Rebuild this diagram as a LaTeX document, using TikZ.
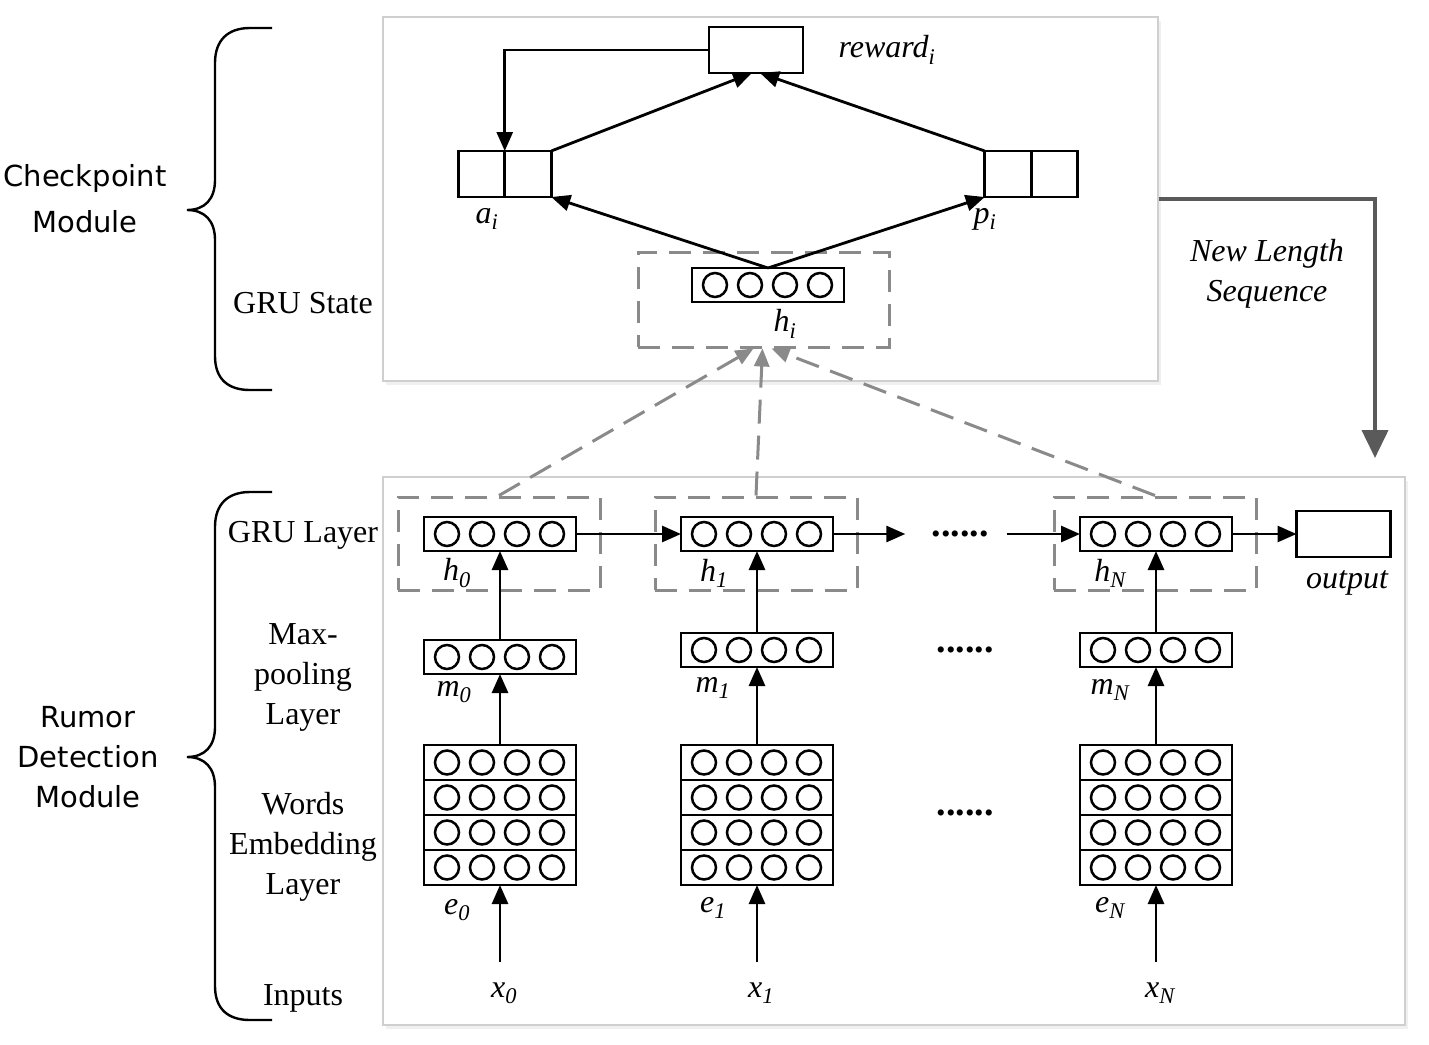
\documentclass[tikz,border=0pt]{standalone}
\usepackage{fontspec}
\setmainfont{Liberation Serif}
\newfontfamily\modfont{DejaVu Sans}
\usetikzlibrary{arrows.meta,positioning,shadows}
\definecolor{framegray}{HTML}{CFCFCF}
\definecolor{dashgray}{HTML}{8A8A8A}
\definecolor{seqgray}{HTML}{5A5A5A}
\tikzset{
  modframe/.style={draw=framegray, line width=2pt, fill=white, inner sep=0pt, drop shadow={opacity=0.12, shadow xshift=3pt, shadow yshift=-4pt}},
  vecbox/.style={draw, line width=2.8pt, fill=white, minimum width=152pt, minimum height=34pt, inner sep=0pt, outer sep=0pt},
  rowbox/.style={vecbox, minimum height=35pt},
  cellbox/.style={draw, line width=2.8pt, minimum width=46.5pt, minimum height=46pt, inner sep=0pt, outer sep=0pt},
  outbox/.style={draw, line width=2.8pt, minimum width=94pt, minimum height=46pt, inner sep=0pt, outer sep=0pt},
  selbox/.style={draw=dashgray, line width=3pt, dash pattern=on 22pt off 12pt, minimum width=202pt, minimum height=93pt, inner sep=0pt},
  farr/.style={-{Triangle[length=19pt, width=16pt]}, line width=2.8pt},
  darr/.style={-{Triangle[length=18pt, width=15pt]}, draw=dashgray, line width=3pt, dash pattern=on 24pt off 12pt},
  seqarr/.style={-{Triangle[length=28pt, width=26pt]}, draw=seqgray, line width=4pt},
  lbl/.style={font=\fontsize{32}{36}\selectfont\itshape, inner sep=0pt},
  layertxt/.style={font=\fontsize{32}{40}\selectfont, align=center, inner sep=0pt},
  modtxt/.style={font=\modfont\fontsize{29}{40}\selectfont, align=center, inner sep=0pt},
  dotstxt/.style={font=\bfseries\fontsize{38}{40}\selectfont, inner sep=0pt}
}
\newcommand{\cells}[1]{\foreach \k in {0,...,3}{\draw[line width=2.5pt] ([xshift={(23+35*\k)*1pt}]#1.west) circle[radius=12pt];}}
\newcommand{\sub}[2]{#1\textsubscript{#2}}

\begin{document}
\begin{tikzpicture}[x=1pt, y=-1pt]
\useasboundingbox (0,0) rectangle (1429,1044);

% module frames
\node[modframe, minimum width=775pt, minimum height=364pt] (ckpt) at (770.5,199) {};
\node[modframe, minimum width=1022pt, minimum height=548pt] (rdm) at (894,751) {};

% braces and module names
\draw[line width=2.4pt] (272,28) -- (250,28) .. controls (228,28) and (215,40) .. (215,63) -- (215,180) .. controls (215,199) and (205,210) .. (187,210) .. controls (205,210) and (215,221) .. (215,240) -- (215,356) .. controls (215,379) and (228,390) .. (250,390) -- (272,390);
\draw[line width=2.4pt] (272,492) -- (250,492) .. controls (228,492) and (215,504) .. (215,527) -- (215,727) .. controls (215,746) and (205,757) .. (187,757) .. controls (205,757) and (215,768) .. (215,787) -- (215,986) .. controls (215,1009) and (228,1020) .. (250,1020) -- (272,1020);
\node[modtxt, font=\modfont\fontsize{29}{46}\selectfont] (ckptname) at (85,199) {Checkpoint\\Module};
\node[modtxt] (rdmname) at (88,757) {Rumor\\Detection\\Module};

% layer names
\node[layertxt] (gstate) at (303,303) {GRU State};
\node[layertxt] (glayer) at (303,535) {GRU Layer};
\node[layertxt] (mpool) at (303,677) {Max-\\pooling\\Layer};
\node[layertxt] (wemb) at (303,847) {Words\\Embedding\\Layer};
\node[layertxt] (inp) at (303,998) {Inputs};

% checkpoint module
\node[outbox] (rwd) at (756,50) {};
\node[lbl] (rwdl) at (887,50) {\sub{reward}{i}};
\node[cellbox] (a1) at (481.5,174) {};
\node[cellbox, right=0pt of a1] (a2) {};
\node[cellbox] (p1) at (1008,174) {};
\node[cellbox, right=0pt of p1] (p2) {};
\node[lbl] (al) at (487,219) {\sub{a}{i}};
\node[lbl] (pl) at (985,219) {\sub{p}{i}};
\node[selbox, minimum width=251pt, minimum height=95pt] (si) at (763.5,299.5) {};
\node[vecbox] (hi) at (768,285) {};
\node[lbl] (hil) at (785,324) {\sub{h}{i}};
\cells{hi}

\draw[farr] (hi.north) -- (a2.south east);
\draw[farr] (hi.north) -- (p1.south west);
\draw[farr] (a2.north east) -- ([xshift=-4pt]rwd.south);
\draw[farr] (p1.north west) -- ([xshift=4pt]rwd.south);
\draw[farr] (rwd.west) -| (a1.north east);

\node[lbl, align=center, font=\fontsize{32}{40}\selectfont\itshape] (newseq) at (1267,274) {New Length\\Sequence};
\coordinate (seqend) at (1375,458);
\draw[seqarr] (ckpt.east) -| (seqend);

% rumor detection module
\foreach \c/\xx/\ym in {0/500/657, 1/757/650, N/1156/650}{
  \node[selbox] (s\c) at (\xx-1,543.5) {};
  \node[vecbox] (h\c) at (\xx,534) {};
  \node[vecbox] (m\c) at (\xx,\ym) {};
  \node[rowbox] (e\c1) at (\xx,762.5) {};
  \node[rowbox, below=0pt of e\c1] (e\c2) {};
  \node[rowbox, below=0pt of e\c2] (e\c3) {};
  \node[rowbox, below=0pt of e\c3] (e\c4) {};
  \node[lbl] (x\c) at (\xx+4,993) {\sub{x}{\c}};
  \coordinate (in\c) at (\xx,962);
  \cells{h\c} \cells{m\c}
  \foreach \r in {1,...,4}{\cells{e\c\r}}
  \draw[farr] (in\c) -- (e\c4.south);
  \draw[farr] (e\c1.north) -- (m\c.south);
  \draw[farr] (m\c.north) -- (h\c.south);
}
\node[lbl] (h0l) at (457,573) {\sub{h}{0}};
\node[lbl] (h1l) at (714,573) {\sub{h}{1}};
\node[lbl] (hNl) at (1110,573) {\sub{h}{N}};
\node[lbl] (m0l) at (454,692) {\sub{m}{0}};
\node[lbl] (m1l) at (713,688) {\sub{m}{1}};
\node[lbl] (mNl) at (1110,690) {\sub{m}{N}};
\node[lbl] (e0l) at (457,910) {\sub{e}{0}};
\node[lbl] (e1l) at (713,908) {\sub{e}{1}};
\node[lbl] (eNl) at (1110,908) {\sub{e}{N}};

\node[dotstxt] (hdots) at (960,534) {......};
\node[dotstxt] (mdots) at (965,650) {......};
\node[dotstxt] (edots) at (965,813) {......};

\node[outbox] (out) at (1343.5,534) {};
\node[lbl] (outl) at (1347,583) {output};

\draw[farr] (h0) -- (h1);
\draw[farr] (h1.east) -- ([xshift=-26pt]hdots.west);
\draw[farr] ([xshift=18pt]hdots.east) -- (hN.west);
\draw[farr] (hN) -- (out);

% dashed links to the GRU state
\draw[darr] (s0.north) -- ([xshift=-10pt]si.south);
\draw[darr] (s1.north) -- ([xshift=-1pt]si.south);
\draw[darr] (sN.north) -- ([xshift=8pt]si.south);
\end{tikzpicture}
\end{document}
